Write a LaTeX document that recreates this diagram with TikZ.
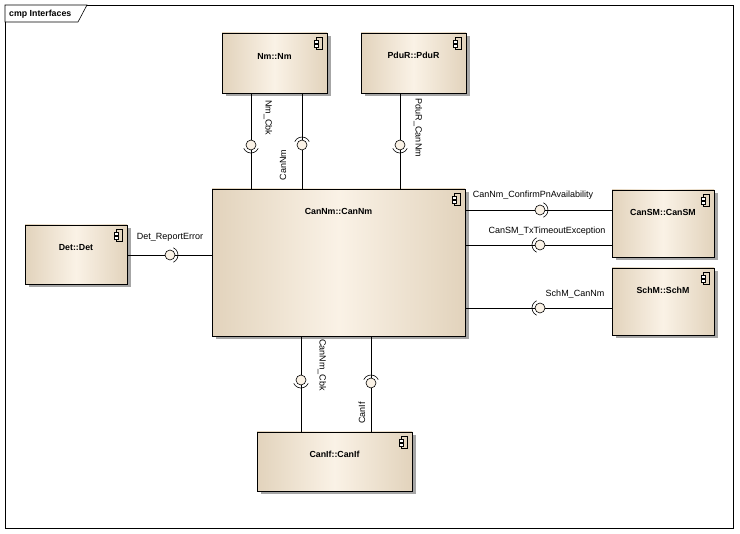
\documentclass[tikz,border=0pt]{standalone}
\usepackage{fontspec}
\setmainfont{Liberation Sans}
\usetikzlibrary{shadows}
\definecolor{compedge}{RGB}{226,211,188}
\definecolor{compmid}{RGB}{250,242,230}
\tikzset{
    comp/.style = {
        draw,
        shape=rectangle,
        line width=0.9pt,
        left color=compedge,
        right color=compedge,
        middle color=compmid,
        shading angle=90,
        drop shadow={shadow xshift=3.5pt, shadow yshift=-3.5pt, fill=black!35, opacity=1},
        label={[font=\fontsize{8.8}{11}\selectfont\bfseries, label distance=-30pt]north:#1}
    },
    ball/.style = {
        draw,
        shape=circle,
        fill=compmid,
        minimum size=10pt,
        inner sep=0pt,
        line width=0.6pt
    },
    ifname/.style = {
        font=\fontsize{9}{11}\selectfont,
        inner sep=1pt
    },
    wire/.style = {line width=0.6pt},
}
% component icon in the top right corner of a node
\newcommand{\compicon}[1]{
    \draw[line width=0.5pt] ([shift={(-11,5)}]#1.north east) rectangle ++(6,12);
    \draw[line width=0.5pt,fill=white] ([shift={(-13,7.5)}]#1.north east) rectangle ++(4,3);
    \draw[line width=0.5pt,fill=white] ([shift={(-13,12)}]#1.north east) rectangle ++(4,3);
}
% socket arc around a ball, opening at the given angle
\newcommand{\socket}[2]{
    \draw[line width=0.6pt] (#1) ++(#2-65:8) arc[start angle=#2-65, end angle=#2+65, radius=8];
}
\begin{document}
\begin{tikzpicture}[x=1pt,y=-1pt]
    \useasboundingbox (0,0) rectangle (740,534);
    % frame
    \draw[line width=0.6pt] (5,5) rectangle (733,528);
    \draw[line width=0.6pt,fill=white] (5,5) -- (87,5) -- (78,22) -- (5,22) -- cycle;
    \node[ifname, font=\fontsize{8.8}{11}\selectfont\bfseries, anchor=west] (title) at (8,14) {cmp Interfaces};

    \node[comp=Nm::Nm, minimum width=105pt, minimum height=60pt] (nm) at (274.5,63) {};
    \node[comp=PduR::PduR, minimum width=105pt, minimum height=60pt] (pdur) at (413.5,63) {};
    \node[comp=CanNm::CanNm, minimum width=253pt, minimum height=147pt] (cannm) at (338.5,262.5) {};
    \node[comp=Det::Det, minimum width=102pt, minimum height=59pt] (det) at (76,254.5) {};
    \node[comp=CanSM::CanSM, minimum width=102pt, minimum height=67pt] (cansm) at (663,223.5) {};
    \node[comp=SchM::SchM, minimum width=102pt, minimum height=67pt] (schm) at (663,301.5) {};
    \node[comp=CanIf::CanIf, minimum width=155pt, minimum height=59pt] (canif) at (334.5,461.5) {};
    \foreach \c in {nm,pdur,cannm,det,cansm,schm,canif} {\compicon{\c}}

    % interface points
    \coordinate (nmcbk) at (251,145);
    \coordinate (nmcannm) at (302,145);
    \coordinate (pducannm) at (400,145);
    \coordinate (deterr) at (170,255);
    \coordinate (confirm) at (540,210);
    \coordinate (txto) at (540,245);
    \coordinate (schmcannm) at (540,308);
    \coordinate (cannmcbk) at (301,380);
    \coordinate (canifp) at (371,383);

    \draw[wire] (nm.south -| nmcbk) -- (cannm.north -| nmcbk);
    \draw[wire] (nm.south -| nmcannm) -- (cannm.north -| nmcannm);
    \draw[wire] (pdur.south -| pducannm) -- (cannm.north -| pducannm);
    \draw[wire] (det.east |- deterr) -- (cannm.west |- deterr);
    \draw[wire] (cannm.east |- confirm) -- (cansm.west |- confirm);
    \draw[wire] (cannm.east |- txto) -- (cansm.west |- txto);
    \draw[wire] (cannm.east |- schmcannm) -- (schm.west |- schmcannm);
    \draw[wire] (cannm.south -| cannmcbk) -- (canif.north -| cannmcbk);
    \draw[wire] (cannm.south -| canifp) -- (canif.north -| canifp);

    \foreach \p in {nmcbk,nmcannm,pducannm,deterr,confirm,txto,schmcannm,cannmcbk,canifp} {\node[ball] at (\p) {};}
    \socket{nmcbk}{90}
    \socket{nmcannm}{270}
    \socket{pducannm}{90}
    \socket{deterr}{0}
    \socket{confirm}{0}
    \socket{txto}{180}
    \socket{schmcannm}{180}
    \socket{cannmcbk}{90}
    \socket{canifp}{270}

    \node[ifname] (l1) at (170,237) {Det\_ReportError};
    \node[ifname] (l2) at (533,195) {CanNm\_ConfirmPnAvailability};
    \node[ifname] (l3) at (547,231) {CanSM\_TxTimeoutException};
    \node[ifname] (l4) at (575,294) {SchM\_CanNm};
    \node[ifname, rotate=-90] (l5) at (268,118) {Nm\_Cbk};
    \node[ifname, rotate=90] (l6) at (283,165) {CanNm};
    \node[ifname, rotate=-90] (l7) at (418,128) {PduR\_CanNm};
    \node[ifname, rotate=-90] (l8) at (322,365) {CanNm\_Cbk};
    \node[ifname, rotate=90] (l9) at (362,413) {CanIf};
\end{tikzpicture}
\end{document}
